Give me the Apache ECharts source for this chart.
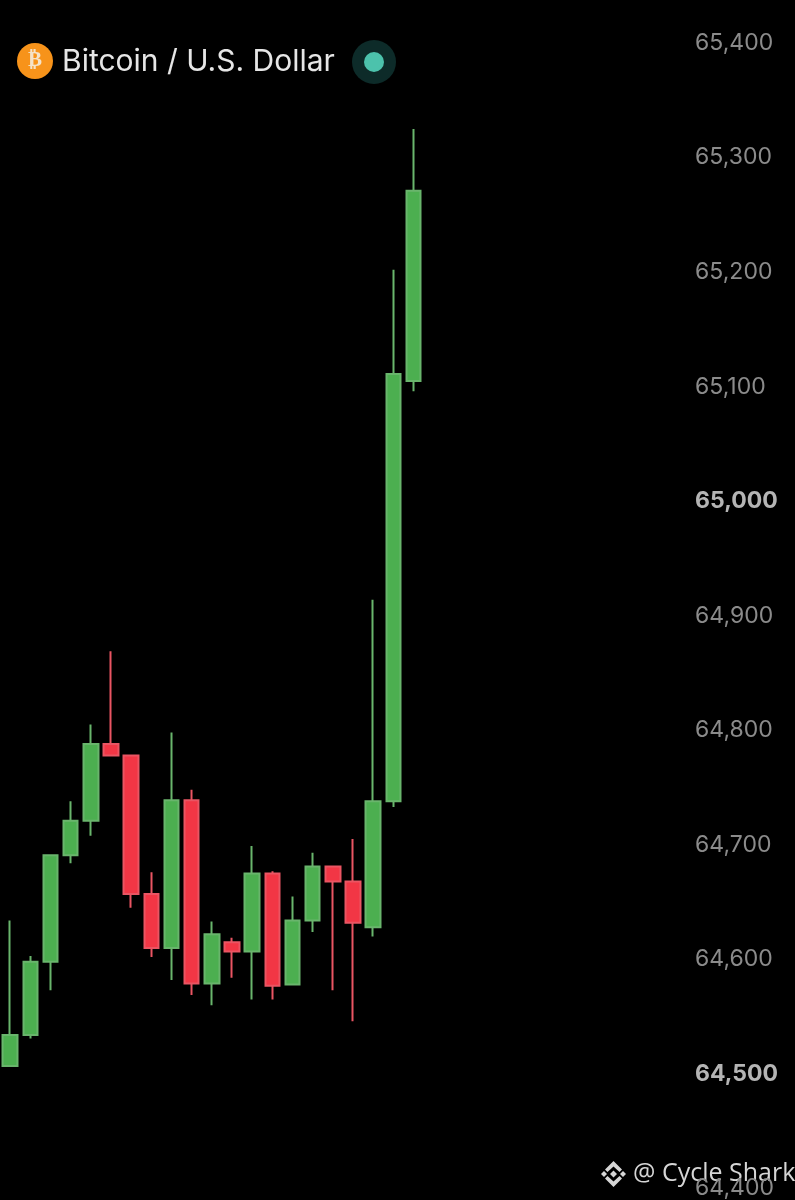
<!DOCTYPE html>
<html>
<head>
<meta charset="utf-8">
<style>html,body{margin:0;padding:0;background:#000}#c{width:795px;height:1200px}</style>
<script src="https://cdn.jsdelivr.net/npm/echarts@6/dist/echarts.min.js"></script>
</head>
<body>
<div id="c"></div>
<script>
const title = 'Bitcoin / U.S. Dollar';
const watermark = '@ Cycle Shark';
const opens  = [64507,64534,64598,64691,64721,64788,64778,64657,64610,64739,64579,64615,64607,64675,64578,64634,64681,64668,64628,64738,65105];
const closes = [64534,64598,64691,64721,64788,64778,64657,64610,64739,64579,64622,64607,64675,64577,64634,64681,64668,64632,64738,65111,65271];
const lows   = [64507,64531,64573,64684,64708,64778,64645,64602,64582,64569,64560,64584,64565,64565,64578,64624,64573,64546,64620,64733,65096];
const highs  = [64634,64603,64691,64738,64805,64869,64778,64676,64798,64748,64633,64619,64699,64677,64655,64693,64681,64705,64914,65202,65325];
const slots = 33;
const categories = Array.from({length: slots}, (_, i) => String(i + 1));
const yTicks = [64400,64500,64600,64700,64800,64900,65000,65100,65200,65300,65400];
const strongTicks = [64500,65000];

const chart = echarts.init(document.getElementById('c'), null, {renderer:'canvas'});
const fmt = v => String(v).replace(/(\d)(\d{3})$/, '$1,$2');
const logo = '#d6d6d6';
chart.setOption({
  backgroundColor:'#000',
  animation:false,
  grid:{left:-1,top:43,width:666.6,bottom:10},
  xAxis:{type:'category',data:categories,show:false,boundaryGap:true},
  yAxis:{
    type:'value',position:'right',min:yTicks[0],max:yTicks[yTicks.length-1],interval:100,
    splitLine:{show:false},axisLine:{show:false},axisTick:{show:false},
    axisLabel:{
      margin:29.5,align:'left',
      formatter:v=>strongTicks.includes(v)?`{b|${fmt(v)}}`:`{n|${fmt(v)}}`,
      rich:{
        n:{fontFamily:'Inter',fontSize:23,color:'#8b8b8b'},
        b:{fontFamily:'Inter',fontSize:23,fontWeight:'bold',color:'#b4b4b4'}
      }
    }
  },
  series:[{
    type:'candlestick',
    barWidth:15,
    data:opens.map((o,i)=>[o,closes[i],lows[i],highs[i]]),
    itemStyle:{color:'#4caf50',color0:'#f23645',borderColor:'#69b56c',borderColor0:'#ea5563',borderWidth:2}
  }],
  graphic:[
    {type:'circle',shape:{cx:35,cy:61,r:18},style:{fill:'#f7931a'},silent:true},
    {type:'text',x:35,y:61,style:{text:'₿',fill:'#f5e3c8',font:'bold 21px "DejaVu Sans"',align:'center',verticalAlign:'middle'},silent:true},
    {type:'text',x:62,y:62,style:{text:title,fill:'#e6e6e6',font:'30px Inter',align:'left',verticalAlign:'middle'},silent:true},
    {type:'circle',shape:{cx:374,cy:62,r:22},style:{fill:'#0d2b29'},silent:true},
    {type:'circle',shape:{cx:374,cy:62,r:10},style:{fill:'#4cc2ac'},silent:true},
    {type:'polygon',shape:{points:[[613.5,1161],[622,1169.5],[619.5,1172],[613.5,1166.5],[607.5,1172],[605,1169.5]]},style:{fill:logo},silent:true},
    {type:'polygon',shape:{points:[[613.5,1187],[622,1178.5],[619.5,1176],[613.5,1181.5],[607.5,1176],[605,1178.5]]},style:{fill:logo},silent:true},
    {type:'polygon',shape:{points:[[613.5,1170.5],[617,1174],[613.5,1177.5],[610,1174]]},style:{fill:logo},silent:true},
    {type:'polygon',shape:{points:[[604,1171],[607,1174],[604,1177],[601,1174]]},style:{fill:logo},silent:true},
    {type:'polygon',shape:{points:[[623,1171],[626,1174],[623,1177],[620,1174]]},style:{fill:logo},silent:true},
    {type:'text',x:633,y:1174,style:{text:watermark,fill:'#d6d6d6',font:'25px "Open Sans"',align:'left',verticalAlign:'middle'},silent:true}
  ]
});
</script>
</body>
</html>
